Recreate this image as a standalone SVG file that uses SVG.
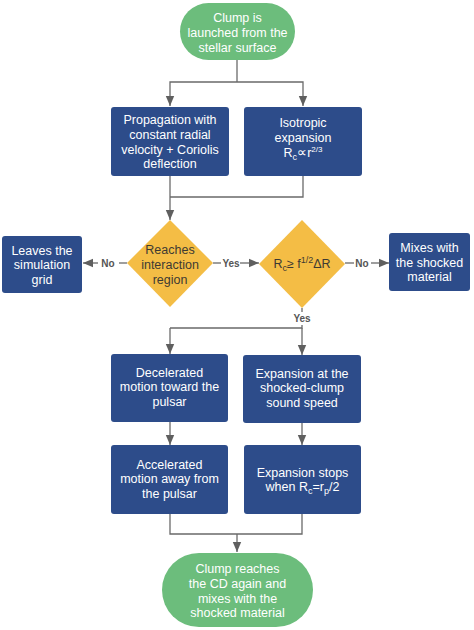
<svg xmlns="http://www.w3.org/2000/svg" width="474" height="630" viewBox="0 0 474 630">
<defs>
<marker id="ah" markerUnits="userSpaceOnUse" markerWidth="10" markerHeight="10" viewBox="0 0 10 10" refX="10" refY="5" orient="auto">
<path d="M0,0.8 L10,5 L0,9.2 Z" fill="#5f5f5f"/>
</marker>
<style>
.ln{fill:none;stroke:#6a6a6a;stroke-width:1.3;}
.ar{marker-end:url(#ah);}
.g{fill:#6cbd7c;}
.b{fill:#2d4c8a;}
.y{fill:#f4bd45;}
.t{font-family:"Liberation Sans",Arial,sans-serif;font-size:12.5px;fill:#ffffff;text-anchor:middle;}
.d{font-family:"Liberation Sans",Arial,sans-serif;font-size:12.5px;fill:#3d3a33;text-anchor:middle;}
.l{font-family:"Liberation Sans",Arial,sans-serif;font-size:10px;font-weight:bold;fill:#555555;text-anchor:middle;}
.sym{font-family:"DejaVu Sans",sans-serif;font-size:14px;}
</style>
</defs>
<rect width="474" height="630" fill="#ffffff"/>
<g id="connectors">
<path class="ln" d="M237,60 V82"/>
<path class="ln ar" d="M237,82 H170 V106"/>
<path class="ln ar" d="M237,82 H303 V106"/>
<path class="ln" d="M303,176 V197 H170"/>
<path class="ln ar" d="M170,176 V220"/>
<path class="ln" d="M127,263 H119"/>
<path class="ln ar" d="M98,263 H83"/>
<text class="l" x="108" y="266.5">No</text>
<path class="ln" d="M213,263 H221"/>
<path class="ln ar" d="M240,263 H259"/>
<text class="l" x="231" y="266.5">Yes</text>
<path class="ln" d="M345,263 H354"/>
<path class="ln ar" d="M371,263 H389"/>
<text class="l" x="362" y="266.5">No</text>
<path class="ln" d="M302,308 V312"/>
<text class="l" x="302" y="321.5">Yes</text>
<path class="ln" d="M302,325 V328 H170"/>
<path class="ln ar" d="M170,328 V354"/>
<path class="ln ar" d="M302,328 V355"/>
<path class="ln ar" d="M170,422 V445"/>
<path class="ln ar" d="M302,423 V445"/>
<path class="ln" d="M170,514 V534 H302 V514"/>
<path class="ln ar" d="M237,534 V552"/>
</g>
<g id="start">
<rect class="g" x="180" y="3" width="115" height="57" rx="28.5"/>
<text class="t" x="237.5" y="21.5">Clump is</text>
<text class="t" x="237.5" y="36.5">launched from the</text>
<text class="t" x="237.5" y="51.5">stellar surface</text>
</g>
<g id="propagation">
<rect class="b" x="111" y="107" width="118" height="69" rx="3"/>
<text class="t" x="170" y="123.5">Propagation with</text>
<text class="t" x="170" y="138.5">constant radial</text>
<text class="t" x="170" y="153.5">velocity + Coriolis</text>
<text class="t" x="170" y="167.5">deflection</text>
</g>
<g id="isotropic">
<rect class="b" x="244" y="107" width="118" height="69" rx="3"/>
<text class="t" x="303" y="126.5">Isotropic</text>
<text class="t" x="303" y="141.5">expansion</text>
<text class="t" x="303" y="156.5">R<tspan font-size="9" dy="3">c</tspan><tspan class="sym" dy="-3">∝</tspan><tspan>r</tspan><tspan font-size="8" dy="-5">2/3</tspan></text>
</g>
<g id="reaches">
<polygon class="y" points="170,220 213,263 170,307 127,263"/>
<text class="d" x="170" y="253.5">Reaches</text>
<text class="d" x="170" y="268.5">interaction</text>
<text class="d" x="170" y="283.5">region</text>
</g>
<g id="condition">
<polygon class="y" points="302,220 345,264 302,308 259,264"/>
<text class="d" x="302" y="268">R<tspan font-size="9" dy="3">c</tspan><tspan dy="-3">≥ f</tspan><tspan font-size="9" dy="-5">1/2</tspan><tspan dy="5">ΔR</tspan></text>
</g>
<g id="leaves">
<rect class="b" x="2" y="236" width="80" height="57" rx="3"/>
<text class="t" x="42" y="254.5">Leaves the</text>
<text class="t" x="42" y="268.5">simulation</text>
<text class="t" x="42" y="283.5">grid</text>
</g>
<g id="mixes">
<rect class="b" x="389" y="233" width="81" height="58" rx="3"/>
<text class="t" x="429.5" y="251.5">Mixes with</text>
<text class="t" x="429.5" y="266.5">the shocked</text>
<text class="t" x="429.5" y="280.5">material</text>
</g>
<g id="decelerated">
<rect class="b" x="111" y="354" width="117" height="68" rx="3"/>
<text class="t" x="169.5" y="376.5">Decelerated</text>
<text class="t" x="169.5" y="390.5">motion toward the</text>
<text class="t" x="169.5" y="405.5">pulsar</text>
</g>
<g id="expansion-sound">
<rect class="b" x="243" y="355" width="118" height="68" rx="3"/>
<text class="t" x="302" y="377.5">Expansion at the</text>
<text class="t" x="302" y="391.5">shocked-clump</text>
<text class="t" x="302" y="406.5">sound speed</text>
</g>
<g id="accelerated">
<rect class="b" x="111" y="445" width="117" height="69" rx="3"/>
<text class="t" x="169.5" y="468.5">Accelerated</text>
<text class="t" x="169.5" y="482.5">motion away from</text>
<text class="t" x="169.5" y="497.5">the pulsar</text>
</g>
<g id="expansion-stops">
<rect class="b" x="244" y="445" width="117" height="69" rx="3"/>
<text class="t" x="302.5" y="476.5">Expansion stops</text>
<text class="t" x="302.5" y="490.5">when R<tspan font-size="9" dy="3">c</tspan><tspan dy="-3">=r</tspan><tspan font-size="9" dy="3">p</tspan><tspan dy="-3">/2</tspan></text>
</g>
<g id="end">
<rect class="g" x="162" y="553" width="151" height="74" rx="37"/>
<text class="t" x="237.5" y="572.5">Clump reaches</text>
<text class="t" x="237.5" y="587.5">the CD again and</text>
<text class="t" x="237.5" y="602.5">mixes with the</text>
<text class="t" x="237.5" y="616.5">shocked material</text>
</g>
</svg>
